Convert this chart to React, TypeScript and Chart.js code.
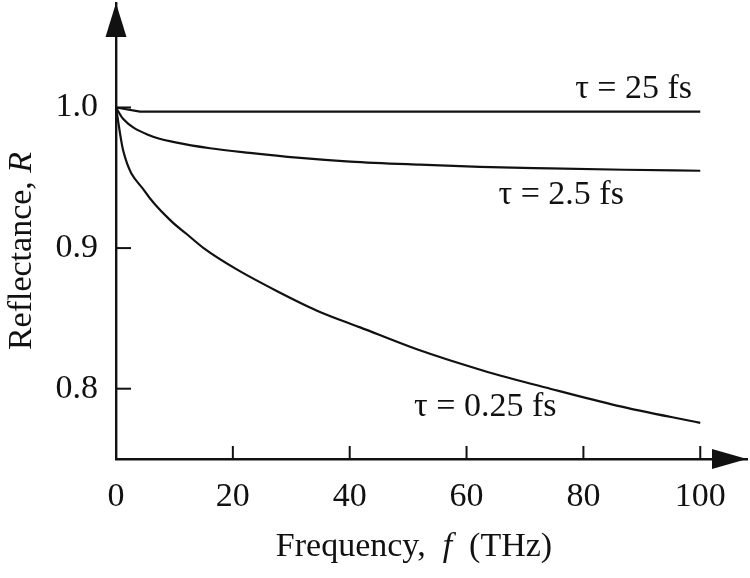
import { useEffect, useRef } from "react";
import { Chart, registerables } from "chart.js";

Chart.register(...registerables);

// Reflectance curves for three relaxation times
const FREQ_TAU_25 = [0, 4.1, 100];
const R_TAU_25 = [1.0, 0.997, 0.997];

const FREQ_TAU_2_5 = [0, 1.2, 5.8, 10.4, 16.1, 22.9, 31, 40.1, 52, 62.3, 74.3, 87, 100];
const R_TAU_2_5 = [1.0, 0.992, 0.98, 0.975, 0.971, 0.9677, 0.9643, 0.9615, 0.9593, 0.9578, 0.9567, 0.9557, 0.955];

const FREQ_TAU_0_25 = [0, 1.25, 5, 9.5, 12.1, 15, 20.6, 27.5, 34.4, 41.8, 51.5, 62.9, 74.3, 85.7, 100];
const R_TAU_0_25 = [1.0, 0.969, 0.94, 0.919, 0.91, 0.9, 0.885, 0.8695, 0.8555, 0.8436, 0.828, 0.8128, 0.8, 0.788, 0.7757];

const SERIES_LABELS = ["τ = 25 fs", "τ = 2.5 fs", "τ = 0.25 fs"];
// label anchor (frequency, reflectance) of each curve's caption
const LABEL_FREQ = [88.6, 76.2, 63.2];
const LABEL_R = [1.0067, 0.9313, 0.7804];

const X_TICKS = [0, 20, 40, 60, 80, 100];
const Y_TICKS = [0.8, 0.9, 1.0];

const SERIF = '"Liberation Serif", "Times New Roman", serif';
const INK = "#111111";
const FONT_SIZE = 34;

const toPoints = (xs: number[], ys: number[]) => xs.map((x, i) => ({ x, y: ys[i] }));

const decorPlugin = {
  id: "axisDecor",
  afterDraw(chart: any) {
    const { ctx, chartArea, scales } = chart;
    const xs = scales.x;
    const ys = scales.y;
    ctx.save();
    ctx.strokeStyle = INK;
    ctx.fillStyle = INK;
    ctx.lineWidth = 2;

    // inward tick marks
    Y_TICKS.forEach((v) => {
      const y = ys.getPixelForValue(v);
      ctx.beginPath();
      ctx.moveTo(chartArea.left, y);
      ctx.lineTo(chartArea.left + 15, y);
      ctx.stroke();
    });
    X_TICKS.forEach((v) => {
      if (v === 0) return;
      const x = xs.getPixelForValue(v);
      ctx.beginPath();
      ctx.moveTo(x, chartArea.bottom);
      ctx.lineTo(x, chartArea.bottom - 13);
      ctx.stroke();
    });

    // arrow heads
    const ax = chartArea.left;
    ctx.beginPath();
    ctx.moveTo(ax, chartArea.top);
    ctx.lineTo(ax - 10.5, chartArea.top + 34);
    ctx.lineTo(ax + 10.5, chartArea.top + 34);
    ctx.closePath();
    ctx.fill();
    const ay = chartArea.bottom;
    ctx.beginPath();
    ctx.moveTo(chartArea.right, ay);
    ctx.lineTo(chartArea.right - 35, ay - 10);
    ctx.lineTo(chartArea.right - 35, ay + 10);
    ctx.closePath();
    ctx.fill();

    // curve captions
    ctx.font = `${FONT_SIZE}px ${SERIF}`;
    ctx.textAlign = "center";
    ctx.textBaseline = "alphabetic";
    SERIES_LABELS.forEach((t, i) => {
      ctx.fillText(t, xs.getPixelForValue(LABEL_FREQ[i]), ys.getPixelForValue(LABEL_R[i]));
    });

    // axis titles with italic symbols
    const drawMixed = (parts: { t: string; italic: boolean }[], cx: number, cy: number) => {
      const widths = parts.map((p) => {
        ctx.font = `${p.italic ? "italic " : ""}${FONT_SIZE}px ${SERIF}`;
        return ctx.measureText(p.t).width;
      });
      const total = widths.reduce((a, b) => a + b, 0);
      let x = cx - total / 2;
      ctx.textAlign = "left";
      parts.forEach((p, i) => {
        ctx.font = `${p.italic ? "italic " : ""}${FONT_SIZE}px ${SERIF}`;
        ctx.fillText(p.t, x, cy);
        x += widths[i];
      });
    };

    drawMixed(
      [
        { t: "Frequency,  ", italic: false },
        { t: "f", italic: true },
        { t: "  (THz)", italic: false },
      ],
      414,
      556
    );

    ctx.save();
    ctx.translate(31, 251);
    ctx.rotate(-Math.PI / 2);
    drawMixed(
      [
        { t: "Reflectance, ", italic: false },
        { t: "R", italic: true },
      ],
      0,
      0
    );
    ctx.restore();

    ctx.restore();
  },
};

export default function App() {
  const canvasRef = useRef<HTMLCanvasElement | null>(null);

  useEffect(() => {
    if (!canvasRef.current) return;
    const lineStyle = {
      borderColor: INK,
      borderWidth: 2.2,
      pointRadius: 0,
      fill: false,
      cubicInterpolationMode: "monotone" as const,
    };
    const chart = new Chart(canvasRef.current, {
      type: "line",
      data: {
        datasets: [
          { label: SERIES_LABELS[0], data: toPoints(FREQ_TAU_25, R_TAU_25), ...lineStyle, cubicInterpolationMode: "default", tension: 0 },
          { label: SERIES_LABELS[1], data: toPoints(FREQ_TAU_2_5, R_TAU_2_5), ...lineStyle },
          { label: SERIES_LABELS[2], data: toPoints(FREQ_TAU_0_25, R_TAU_0_25), ...lineStyle },
        ],
      },
      options: {
        animation: false,
        responsive: true,
        maintainAspectRatio: false,
        layout: { padding: { top: 3, right: 3, left: 0, bottom: 0 } },
        plugins: {
          legend: { display: false },
          tooltip: { enabled: false },
          title: { display: false },
        },
        scales: {
          x: {
            type: "linear",
            min: 0,
            max: 108,
            afterBuildTicks: (s: any) => {
              s.ticks = X_TICKS.map((value) => ({ value }));
            },
            afterFit: (s: any) => {
              s.height = 119;
              s.paddingLeft = 0;
              s.paddingRight = 0;
              s.paddingTop = 0;
              s.paddingBottom = 0;
            },
            grid: { display: false, drawTicks: false },
            border: { display: true, color: INK, width: 2.4 },
            ticks: {
              color: INK,
              font: { family: SERIF, size: FONT_SIZE },
              padding: 18,
              maxRotation: 0,
              autoSkip: false,
              callback: (v: any) => String(v),
            },
          },
          y: {
            type: "linear",
            min: 0.75,
            max: 1.0743,
            afterBuildTicks: (s: any) => {
              s.ticks = Y_TICKS.map((value) => ({ value }));
            },
            afterFit: (s: any) => {
              s.width = 116;
              s.paddingLeft = 0;
              s.paddingRight = 0;
              s.paddingTop = 0;
              s.paddingBottom = 0;
            },
            grid: { display: false, drawTicks: false },
            border: { display: true, color: INK, width: 2.4 },
            ticks: {
              color: INK,
              font: { family: SERIF, size: FONT_SIZE },
              padding: 18,
              autoSkip: false,
              callback: (v: any) => Number(v).toFixed(1),
            },
          },
        },
      },
      plugins: [decorPlugin],
    });
    return () => chart.destroy();
  }, []);

  return (
    <div style={{ position: "fixed", left: 0, top: 0, width: 750, height: 578, background: "#ffffff" }}>
      <canvas ref={canvasRef} />
    </div>
  );
}
